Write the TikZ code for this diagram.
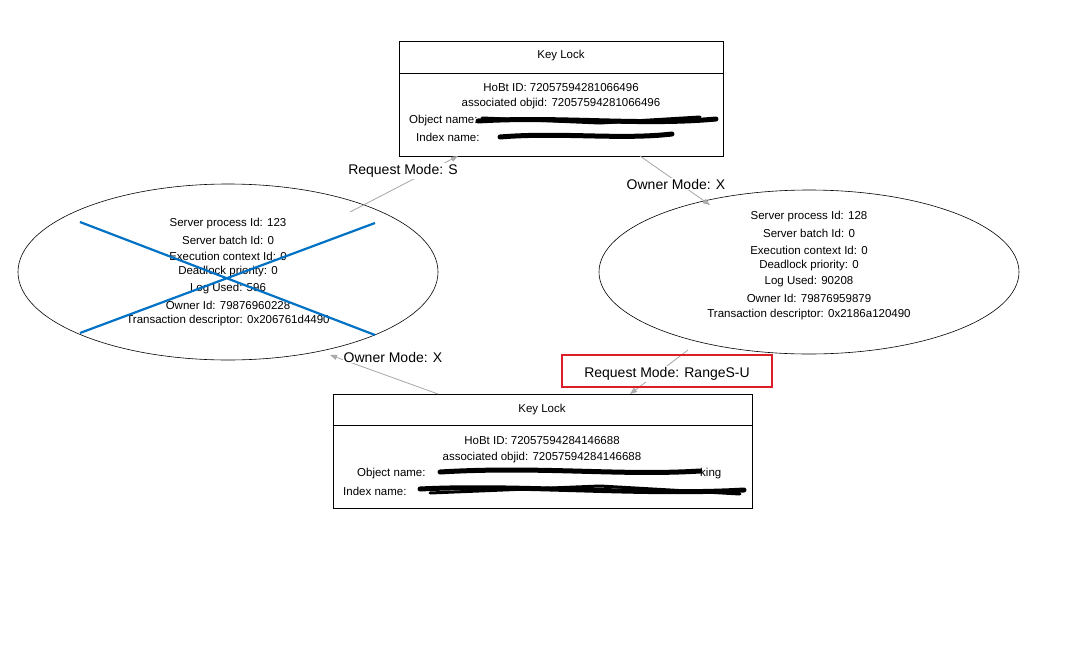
\documentclass[tikz,border=0pt]{standalone}
\usepackage{fontspec}
\setmainfont{Liberation Sans}
\usetikzlibrary{arrows.meta}
\begin{document}
\begin{tikzpicture}[x=1pt,y=-1pt,
  txt/.style={font=\fontsize{11.5}{14}\selectfont,inner sep=0pt,anchor=center},
  lbl/.style={font=\fontsize{14}{16}\selectfont,inner sep=1pt,fill=white},
  conn/.style={draw=gray!70,line width=0.8pt,-{Triangle[length=7pt,width=5pt,fill=gray!60]}},
  box/.style={draw=black,line width=0.6pt,fill=white},
  scrib/.style={line width=5pt,line cap=round,draw=black}]
\useasboundingbox (0,0) rectangle (1080,651);
\fill[white] (0,0) rectangle (1080,651);
% top box
\draw[box] (399,41) rectangle (723,156);
\coordinate (t1) at (458,156);
\coordinate (t2) at (640,156);
\draw (399,73) -- (723,73);
\node[txt] (tt) at (561,56) {Key Lock};
\node[txt] (ta) at (561,88) {HoBt ID: 72057594281066496};
\node[txt] (tb) at (561,104) {associated objid: 72057594281066496};
\node[txt,anchor=west] (tc) at (409,121) {Object name:};
\node[txt,anchor=west] (td) at (416,137) {Index name:};
\draw[scrib] (478,121) .. controls (560,116) and (640,126) .. (716,119);
\draw[scrib,line width=3pt] (482,118) -- (600,123) -- (700,117);
\draw[scrib] (500,137) .. controls (560,132) and (620,140) .. (672,134);
% left ellipse
\draw[line width=0.6pt] (228,272) ellipse [x radius=210,y radius=88];
\coordinate (l1) at (350,212);
\coordinate (l2) at (330,355);
\node[txt] at (228,224) {Server process Id: 123};
\node[txt] at (228,240) {Server batch Id: 0};
\node[txt] at (228,256) {Execution context Id: 0};
\node[txt] at (228,272) {Deadlock priority: 0};
\node[txt] at (228,289) {Log Used: 596};
\node[txt] at (228,305) {Owner Id: 79876960228};
\node[txt] at (228,321) {Transaction descriptor: 0x206761d4490};
\draw[line width=2.2pt,draw={rgb,255:red,0;green,114;blue,198}] (80,222) -- (375,335) (80,333) -- (375,223);
% right ellipse
\draw[line width=0.6pt] (809,272) ellipse [x radius=210,y radius=82];
\coordinate (r1) at (710,205);
\coordinate (r2) at (688,350);
\node[txt] at (809,217) {Server process Id: 128};
\node[txt] at (809,233) {Server batch Id: 0};
\node[txt] at (809,250) {Execution context Id: 0};
\node[txt] at (809,266) {Deadlock priority: 0};
\node[txt] at (809,282) {Log Used: 90208};
\node[txt] at (809,298) {Owner Id: 79876959879};
\node[txt] at (809,315) {Transaction descriptor: 0x2186a120490};
% bottom box
\draw[box] (333,394) rectangle (752,508);
\coordinate (b1) at (630,394);
\coordinate (b2) at (438,394);
\draw (333,425) -- (752,425);
\node[txt] at (542,410) {Key Lock};
\node[txt] at (542,441) {HoBt ID: 72057594284146688};
\node[txt] at (542,458) {associated objid: 72057594284146688};
\node[txt,anchor=west] at (357,474) {Object name:};
\node[txt,anchor=west] at (343,491) {Index name:};
\draw[scrib] (440,472) .. controls (540,466) and (620,476) .. (700,471);
\node[txt,anchor=west] at (700,474) {king};
\draw[scrib] (420,489) .. controls (520,484) and (640,496) .. (744,490);
\draw[scrib,line width=3pt] (430,493) -- (600,486) -- (740,494);
% connectors
\draw[conn] (l1) -- (t1);
\draw[conn] (t2) -- (r1);
\draw[conn] (r2) -- (b1);
\draw[conn] (b2) -- (l2);
\node[lbl] (e1) at (403,171) {Request Mode: S};
\node[lbl] (e2) at (676,184) {Owner Mode: X};
\node[lbl] (e3) at (393,357) {Owner Mode: X};
\node[lbl] (e4) at (667,374) {Request Mode: RangeS-U};
\draw[draw={rgb,255:red,220;green,30;blue,40},line width=2pt] (562,355) rectangle (772,387);
\end{tikzpicture}
\end{document}
